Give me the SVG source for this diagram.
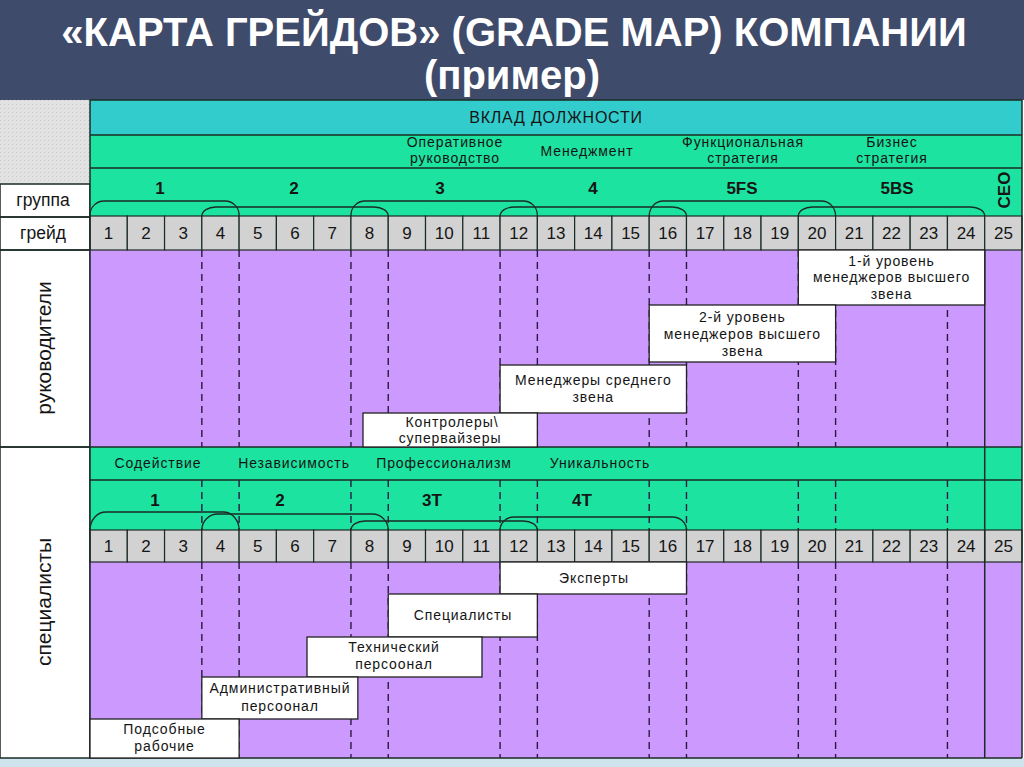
<svg xmlns="http://www.w3.org/2000/svg" width="1024" height="767" viewBox="0 0 1024 767">
<style>
text{font-family:"Liberation Sans",Arial,sans-serif;fill:#151515}
.title{font-size:40px;font-weight:bold;fill:#ffffff;text-anchor:middle}
.g{font-size:17px;text-anchor:middle}
.gb{font-size:17px;font-weight:bold;text-anchor:middle}
.s{font-size:14px;letter-spacing:0.9px;text-anchor:middle}
.lb{font-size:16px;letter-spacing:0.8px;text-anchor:middle}
.lc{font-size:17.5px;text-anchor:middle}
.side{font-size:21px;text-anchor:middle}
.ln{stroke:#1b2b25;stroke-width:1.5;fill:none}
.cell{fill:#d2d2d2;stroke:#1b2b25;stroke-width:1.2}
.box{fill:#ffffff;stroke:#222;stroke-width:1.3}
.dash{stroke:#2a1a40;stroke-width:1.4;stroke-dasharray:7 5;fill:none}
.br{stroke:#1b2b25;stroke-width:1.3;fill:none}
</style>
<defs>
<pattern id="dots" width="4" height="4" patternUnits="userSpaceOnUse">
<rect width="4" height="4" fill="#e2e2e2"/><rect width="1" height="1" fill="#c8c8c8"/>
</pattern>
</defs>
<!-- header -->
<g id="header">
<rect x="0" y="0" width="1024" height="100" fill="#3f4b6b"/>
<text class="title" x="514" y="46">«КАРТА ГРЕЙДОВ» (GRADE MAP) КОМПАНИИ</text>
<text class="title" x="512" y="89">(пример)</text>
</g>
<rect x="0" y="100" width="90" height="84" fill="url(#dots)"/>
<rect x="0" y="758" width="1024" height="9" fill="#cfe3ef"/>
<!-- left column -->
<g id="left-group">
<rect x="0" y="184" width="90" height="33" fill="#1de3a0" class="ln"/>
<text class="lc" x="43" y="206">группа</text>
</g>
<g id="left-grade">
<rect x="0" y="217" width="90" height="33" fill="#1de3a0" class="ln"/>
<text class="lc" x="43" y="239">грейд</text>
</g>
<g id="left-managers">
<rect x="0" y="250" width="90" height="197" fill="#ccff66" class="ln"/>
<text class="side" transform="translate(51 348) rotate(-90)">руководители</text>
</g>
<g id="left-specialists">
<rect x="0" y="447" width="90" height="311" fill="#ccff66" class="ln"/>
<text class="side" transform="translate(51 602) rotate(-90)">специалисты</text>
</g>
<!-- upper section -->
<g id="upper-rows">
<rect x="90" y="100" width="932" height="35" fill="#33cccc"/>
<rect x="90" y="135" width="932" height="81" fill="#1de3a0"/>
<rect x="90" y="250" width="932" height="197" fill="#cc99ff"/>
<line class="ln" x1="90" y1="135" x2="1022" y2="135"/>
<line class="ln" x1="90" y1="168" x2="1022" y2="168"/>
<text class="lb" x="556" y="123">ВКЛАД ДОЛЖНОСТИ</text>
<text class="s" x="455" y="147">Оперативное</text>
<text class="s" x="455" y="163">руководство</text>
<text class="s" x="587" y="156">Менеджмент</text>
<text class="s" x="743" y="147">Функциональная</text>
<text class="s" x="743" y="163">стратегия</text>
<text class="s" x="892" y="147">Бизнес</text>
<text class="s" x="892" y="163">стратегия</text>
<text class="gb" x="160" y="194">1</text>
<text class="gb" x="294" y="194">2</text>
<text class="gb" x="440" y="194">3</text>
<text class="gb" x="593" y="194">4</text>
<text class="gb" x="742" y="194">5FS</text>
<text class="gb" x="897" y="194">5BS</text>
<text class="gb" transform="translate(1010 190) rotate(-90)">CEO</text>
</g>
<g id="upper-grades">
<rect class="cell" x="90" y="216" width="37.28" height="34"/><text class="g" x="108.6" y="239">1</text>
<rect class="cell" x="127.28" y="216" width="37.28" height="34"/><text class="g" x="145.9" y="239">2</text>
<rect class="cell" x="164.56" y="216" width="37.28" height="34"/><text class="g" x="183.2" y="239">3</text>
<rect class="cell" x="201.84" y="216" width="37.28" height="34"/><text class="g" x="220.5" y="239">4</text>
<rect class="cell" x="239.12" y="216" width="37.28" height="34"/><text class="g" x="257.8" y="239">5</text>
<rect class="cell" x="276.4" y="216" width="37.28" height="34"/><text class="g" x="295" y="239">6</text>
<rect class="cell" x="313.68" y="216" width="37.28" height="34"/><text class="g" x="332.3" y="239">7</text>
<rect class="cell" x="350.96" y="216" width="37.28" height="34"/><text class="g" x="369.6" y="239">8</text>
<rect class="cell" x="388.24" y="216" width="37.28" height="34"/><text class="g" x="406.9" y="239">9</text>
<rect class="cell" x="425.52" y="216" width="37.28" height="34"/><text class="g" x="444.2" y="239">10</text>
<rect class="cell" x="462.8" y="216" width="37.28" height="34"/><text class="g" x="481.4" y="239">11</text>
<rect class="cell" x="500.08" y="216" width="37.28" height="34"/><text class="g" x="518.7" y="239">12</text>
<rect class="cell" x="537.36" y="216" width="37.28" height="34"/><text class="g" x="556" y="239">13</text>
<rect class="cell" x="574.64" y="216" width="37.28" height="34"/><text class="g" x="593.3" y="239">14</text>
<rect class="cell" x="611.92" y="216" width="37.28" height="34"/><text class="g" x="630.6" y="239">15</text>
<rect class="cell" x="649.2" y="216" width="37.28" height="34"/><text class="g" x="667.8" y="239">16</text>
<rect class="cell" x="686.48" y="216" width="37.28" height="34"/><text class="g" x="705.1" y="239">17</text>
<rect class="cell" x="723.76" y="216" width="37.28" height="34"/><text class="g" x="742.4" y="239">18</text>
<rect class="cell" x="761.04" y="216" width="37.28" height="34"/><text class="g" x="779.7" y="239">19</text>
<rect class="cell" x="798.32" y="216" width="37.28" height="34"/><text class="g" x="817" y="239">20</text>
<rect class="cell" x="835.6" y="216" width="37.28" height="34"/><text class="g" x="854.2" y="239">21</text>
<rect class="cell" x="872.88" y="216" width="37.28" height="34"/><text class="g" x="891.5" y="239">22</text>
<rect class="cell" x="910.16" y="216" width="37.28" height="34"/><text class="g" x="928.8" y="239">23</text>
<rect class="cell" x="947.44" y="216" width="37.28" height="34"/><text class="g" x="966.1" y="239">24</text>
<rect class="cell" x="984.72" y="216" width="37.28" height="34"/><text class="g" x="1003.4" y="239">25</text>
</g>
<!-- lower section -->
<g id="lower-rows">
<rect x="90" y="447" width="932" height="83" fill="#1de3a0"/>
<rect x="90" y="562" width="932" height="196" fill="#cc99ff"/>
<line class="ln" x1="90" y1="480" x2="1022" y2="480"/>
<text class="s" x="158" y="468">Содействие</text>
<text class="s" x="294" y="468">Независимость</text>
<text class="s" x="444" y="468">Профессионализм</text>
<text class="s" x="600" y="468">Уникальность</text>
<text class="gb" x="155" y="506">1</text>
<text class="gb" x="280" y="506">2</text>
<text class="gb" x="432" y="506">3T</text>
<text class="gb" x="582" y="506">4T</text>
</g>
<g id="lower-grades">
<rect class="cell" x="90" y="530" width="37.28" height="32"/><text class="g" x="108.6" y="552">1</text>
<rect class="cell" x="127.28" y="530" width="37.28" height="32"/><text class="g" x="145.9" y="552">2</text>
<rect class="cell" x="164.56" y="530" width="37.28" height="32"/><text class="g" x="183.2" y="552">3</text>
<rect class="cell" x="201.84" y="530" width="37.28" height="32"/><text class="g" x="220.5" y="552">4</text>
<rect class="cell" x="239.12" y="530" width="37.28" height="32"/><text class="g" x="257.8" y="552">5</text>
<rect class="cell" x="276.4" y="530" width="37.28" height="32"/><text class="g" x="295" y="552">6</text>
<rect class="cell" x="313.68" y="530" width="37.28" height="32"/><text class="g" x="332.3" y="552">7</text>
<rect class="cell" x="350.96" y="530" width="37.28" height="32"/><text class="g" x="369.6" y="552">8</text>
<rect class="cell" x="388.24" y="530" width="37.28" height="32"/><text class="g" x="406.9" y="552">9</text>
<rect class="cell" x="425.52" y="530" width="37.28" height="32"/><text class="g" x="444.2" y="552">10</text>
<rect class="cell" x="462.8" y="530" width="37.28" height="32"/><text class="g" x="481.4" y="552">11</text>
<rect class="cell" x="500.08" y="530" width="37.28" height="32"/><text class="g" x="518.7" y="552">12</text>
<rect class="cell" x="537.36" y="530" width="37.28" height="32"/><text class="g" x="556" y="552">13</text>
<rect class="cell" x="574.64" y="530" width="37.28" height="32"/><text class="g" x="593.3" y="552">14</text>
<rect class="cell" x="611.92" y="530" width="37.28" height="32"/><text class="g" x="630.6" y="552">15</text>
<rect class="cell" x="649.2" y="530" width="37.28" height="32"/><text class="g" x="667.8" y="552">16</text>
<rect class="cell" x="686.48" y="530" width="37.28" height="32"/><text class="g" x="705.1" y="552">17</text>
<rect class="cell" x="723.76" y="530" width="37.28" height="32"/><text class="g" x="742.4" y="552">18</text>
<rect class="cell" x="761.04" y="530" width="37.28" height="32"/><text class="g" x="779.7" y="552">19</text>
<rect class="cell" x="798.32" y="530" width="37.28" height="32"/><text class="g" x="817" y="552">20</text>
<rect class="cell" x="835.6" y="530" width="37.28" height="32"/><text class="g" x="854.2" y="552">21</text>
<rect class="cell" x="872.88" y="530" width="37.28" height="32"/><text class="g" x="891.5" y="552">22</text>
<rect class="cell" x="910.16" y="530" width="37.28" height="32"/><text class="g" x="928.8" y="552">23</text>
<rect class="cell" x="947.44" y="530" width="37.28" height="32"/><text class="g" x="966.1" y="552">24</text>
<rect class="cell" x="984.72" y="530" width="37.28" height="32"/><text class="g" x="1003.4" y="552">25</text>
</g>
<!-- connectors: dashed guides and brackets -->
<g id="connectors">
<path class="dash" d="M201.84 250V447M239.12 250V447M350.96 250V447M388.24 250V447M500.08 250V447M537.36 250V447M649.2 250V447M686.48 250V447M798.32 250V447M835.6 250V447M947.44 250V447"/>
<path class="dash" d="M201.84 480V530M239.12 480V530M350.96 480V530M388.24 480V530M500.08 480V530M537.36 480V530M649.2 480V530M686.48 480V530M798.32 480V530M835.6 480V530M947.44 480V530"/>
<path class="dash" d="M201.84 562V758M239.12 562V758M350.96 562V758M388.24 562V758M500.08 562V758M537.36 562V758M649.2 562V758M686.48 562V758M798.32 562V758M835.6 562V758M947.44 562V758"/>
<line class="ln" x1="984.72" y1="250" x2="984.72" y2="447"/>
<line class="ln" x1="984.72" y1="447" x2="984.72" y2="758"/>
<path class="br" d="M90 216V215A14 14 0 0 1 104 201H225.12A14 14 0 0 1 239.12 215V216"/>
<path class="br" d="M201.84 216A14 9 0 0 1 215.84 207H374.24A14 9 0 0 1 388.24 216"/>
<path class="br" d="M350.96 216V215A14 14 0 0 1 364.96 201H523.36A14 14 0 0 1 537.36 215V216"/>
<path class="br" d="M500.08 216A14 9 0 0 1 514.08 207H672.48A14 9 0 0 1 686.48 216"/>
<path class="br" d="M649.2 216A14 15 0 0 1 663.2 201H821.6A14 15 0 0 1 835.6 216"/>
<path class="br" d="M798.32 216A14 9 0 0 1 812.32 207H970.72A14 9 0 0 1 984.72 216"/>
<path class="br" d="M90 530A16 18 0 0 1 106 512H223.12A16 18 0 0 1 239.12 530"/>
<path class="br" d="M201.84 530A16 16 0 0 1 217.84 514H372.24A16 16 0 0 1 388.24 530"/>
<path class="br" d="M350.96 530A14 9 0 0 1 364.96 521H523.36A14 9 0 0 1 537.36 530"/>
<path class="br" d="M500.08 530A14 13 0 0 1 514.08 517H672.48A14 13 0 0 1 686.48 530"/>
</g>
<!-- frame lines -->
<g id="frame">
<line class="ln" x1="90" y1="100" x2="1022" y2="100"/>
<line class="ln" x1="90" y1="100" x2="90" y2="758"/>
<line class="ln" x1="1022" y1="100" x2="1022" y2="758"/>
<line class="ln" x1="90" y1="447" x2="1022" y2="447"/>
<line class="ln" x1="90" y1="758" x2="1022" y2="758"/>
</g>
<!-- role boxes -->
<g id="box-top1"><rect class="box" x="798.32" y="250" width="186.4" height="55"/>
<text class="s" x="891.5" y="266">1-й уровень</text><text class="s" x="891.5" y="282">менеджеров высшего</text><text class="s" x="891.5" y="299">звена</text></g>
<g id="box-top2"><rect class="box" x="649.2" y="305" width="186.4" height="57"/>
<text class="s" x="742.4" y="322">2-й уровень</text><text class="s" x="742.4" y="339">менеджеров высшего</text><text class="s" x="742.4" y="356">звена</text></g>
<g id="box-middle"><rect class="box" x="500.08" y="365" width="186.4" height="48"/>
<text class="s" x="593.3" y="385">Менеджеры среднего</text><text class="s" x="593.3" y="402">звена</text></g>
<g id="box-supervisors"><rect class="box" x="363" y="413" width="174.36" height="34"/>
<text class="s" x="452" y="427">Контролеры\</text><text class="s" x="450" y="443">супервайзеры</text></g>
<g id="box-experts"><rect class="box" x="500.08" y="562" width="186.4" height="32"/>
<text class="s" x="594" y="583">Эксперты</text></g>
<g id="box-specialists"><rect class="box" x="388.24" y="594" width="149.12" height="43"/>
<text class="s" x="463" y="620">Специалисты</text></g>
<g id="box-tech"><rect class="box" x="307" y="637" width="175" height="40"/>
<text class="s" x="394" y="652">Технический</text><text class="s" x="394" y="669">персоонал</text></g>
<g id="box-admin"><rect class="box" x="201.84" y="677" width="156" height="42"/>
<text class="s" x="280" y="693">Административный</text><text class="s" x="280" y="711">персоонал</text></g>
<g id="box-workers"><rect class="box" x="90" y="719" width="149.12" height="39"/>
<text class="s" x="164.5" y="734">Подсобные</text><text class="s" x="164.5" y="751">рабочие</text></g>
</svg>
